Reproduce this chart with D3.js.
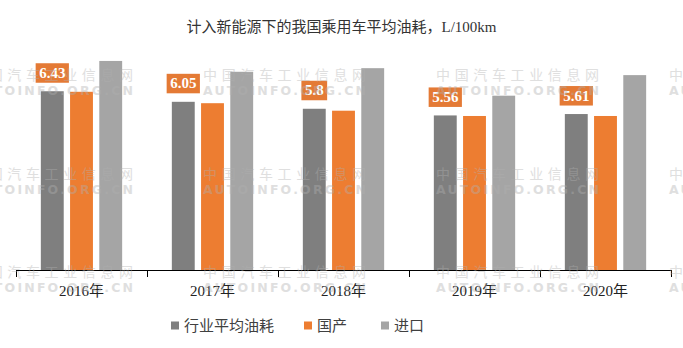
<!DOCTYPE html>
<html>
<head>
<meta charset="utf-8">
<script src="https://cdn.jsdelivr.net/npm/d3@7"></script>
<style>
  html, body { margin: 0; padding: 0; background: #fff; }
  svg { display: block; }
</style>
</head>
<body>
<svg id="chart"></svg>
<script>
// data
var years = ["2016年", "2017年", "2018年", "2019年", "2020年"];
var seriesNames = ["行业平均油耗", "国产", "进口"];
var industryAvg = [6.43, 6.05, 5.8, 5.56, 5.61];
var domestic = [6.41, 6.00, 5.73, 5.54, 5.54];
var imported = [7.52, 7.13, 7.26, 6.27, 7.01];

var width = 683, height = 348;
var colors = ["#7f7f7f", "#ed7d31", "#a5a5a5"];
var cjk = "'Noto Sans CJK SC', sans-serif";
var serif = "'Liberation Serif', 'Times New Roman', 'Noto Sans CJK SC', serif";

var svg = d3.select("#chart")
    .attr("width", width)
    .attr("height", height);

// scales
var x = d3.scaleBand()
    .domain(years)
    .range([16, 671])
    .paddingInner(0)
    .paddingOuter(0);
var xInner = d3.scaleBand()
    .domain(seriesNames)
    .range([0, x.bandwidth()])
    .paddingInner(0.217)
    .paddingOuter(0.85);
var y = d3.scaleLinear()
    .domain([0, 8])
    .range([270, 270 - 8 * 27.8]);

var rows = years.map(function(yr, i) {
  return { year: yr, values: [industryAvg[i], domestic[i], imported[i]] };
});

// title
var title = svg.append("text")
    .attr("x", width / 2)
    .attr("y", 32)
    .attr("text-anchor", "middle")
    .attr("fill", "#333")
    .style("font-size", "15px");
title.append("tspan").style("font-family", cjk).text("计入新能源下的我国乘用车平均油耗，");
title.append("tspan").style("font-family", serif).text("L/100km");

// bars
var groups = svg.selectAll(".group")
    .data(rows)
    .enter().append("g")
    .attr("class", "group")
    .attr("transform", function(d) { return "translate(" + x(d.year) + ",0)"; });

groups.selectAll("rect")
    .data(function(d) { return d.values.map(function(v, j) { return { name: seriesNames[j], value: v, k: j }; }); })
    .enter().append("rect")
    .attr("x", function(d) { return xInner(d.name); })
    .attr("y", function(d) { return y(d.value); })
    .attr("width", xInner.bandwidth())
    .attr("height", function(d) { return y(0) - y(d.value); })
    .attr("fill", function(d) { return colors[d.k]; });

// axis
var axis = svg.append("g")
    .attr("transform", "translate(0," + y(0) + ")");
axis.append("line")
    .attr("x1", x.range()[0]).attr("x2", x.range()[1])
    .attr("y1", 0.5).attr("y2", 0.5)
    .attr("stroke", "#000").attr("stroke-width", 1);
var edges = years.map(function(yr) { return x(yr); }).concat([x.range()[1]]);
axis.selectAll(".tick")
    .data(edges)
    .enter().append("line")
    .attr("x1", function(d) { return Math.round(d) + 0.5; })
    .attr("x2", function(d) { return Math.round(d) + 0.5; })
    .attr("y1", 0).attr("y2", 7)
    .attr("stroke", "#000");
axis.selectAll(".lbl")
    .data(years)
    .enter().append("text")
    .attr("x", function(d) { return x(d) + x.bandwidth() / 2; })
    .attr("y", 26)
    .attr("text-anchor", "middle")
    .attr("fill", "#222")
    .style("font-family", serif)
    .style("font-size", "15px")
    .text(function(d) { return d; });

// watermark (sits over the bars, half transparent)
var wmCols = [-30, 203, 436, 669];
var wmRows = [75, 174, 272];
var wm = svg.append("g").attr("opacity", 0.4).attr("fill", "#b0b0b0");
wmRows.forEach(function(ry) {
  wmCols.forEach(function(cx) {
    wm.append("text")
      .attr("x", cx).attr("y", ry + 5)
      .attr("textLength", 163).attr("lengthAdjust", "spacing")
      .style("font-family", cjk).style("font-size", "14px")
      .text("中国汽车工业信息网");
    wm.append("text")
      .attr("x", cx).attr("y", ry + 20)
      .attr("textLength", 163).attr("lengthAdjust", "spacing")
      .style("font-family", "'DejaVu Sans', sans-serif")
      .style("font-weight", "bold").style("font-size", "12.5px")
      .text("AUTOINFO.ORG.CN");
  });
});

// data labels on the industry-average bars
groups.each(function(d) {
  var g = d3.select(this);
  var cx = xInner(seriesNames[0]) + xInner.bandwidth() / 2;
  var bottom = y(d.values[0]) - 8.5;
  var lbl = g.append("g");
  var box = lbl.append("rect").attr("fill", "#e47a35");
  var t = lbl.append("text")
    .attr("x", cx)
    .attr("y", bottom - 5)
    .attr("text-anchor", "middle")
    .attr("fill", "#fff")
    .style("font-family", serif)
    .style("font-weight", "bold")
    .style("font-size", "15px")
    .text(String(d.values[0]));
  var w = t.node().getComputedTextLength() + 7;
  box.attr("x", cx - w / 2).attr("y", bottom - 19.5)
    .attr("width", w).attr("height", 19.5);
});

// legend
var legX = [171, 304, 381];
var legend = svg.append("g");
seriesNames.forEach(function(name, i) {
  legend.append("rect")
    .attr("x", legX[i]).attr("y", 321.5)
    .attr("width", 8).attr("height", 8)
    .attr("fill", colors[i]);
  legend.append("text")
    .attr("x", legX[i] + 13).attr("y", 331)
    .attr("fill", "#404040")
    .style("font-family", cjk)
    .style("font-size", "15px")
    .text(name);
});
</script>
</body>
</html>
